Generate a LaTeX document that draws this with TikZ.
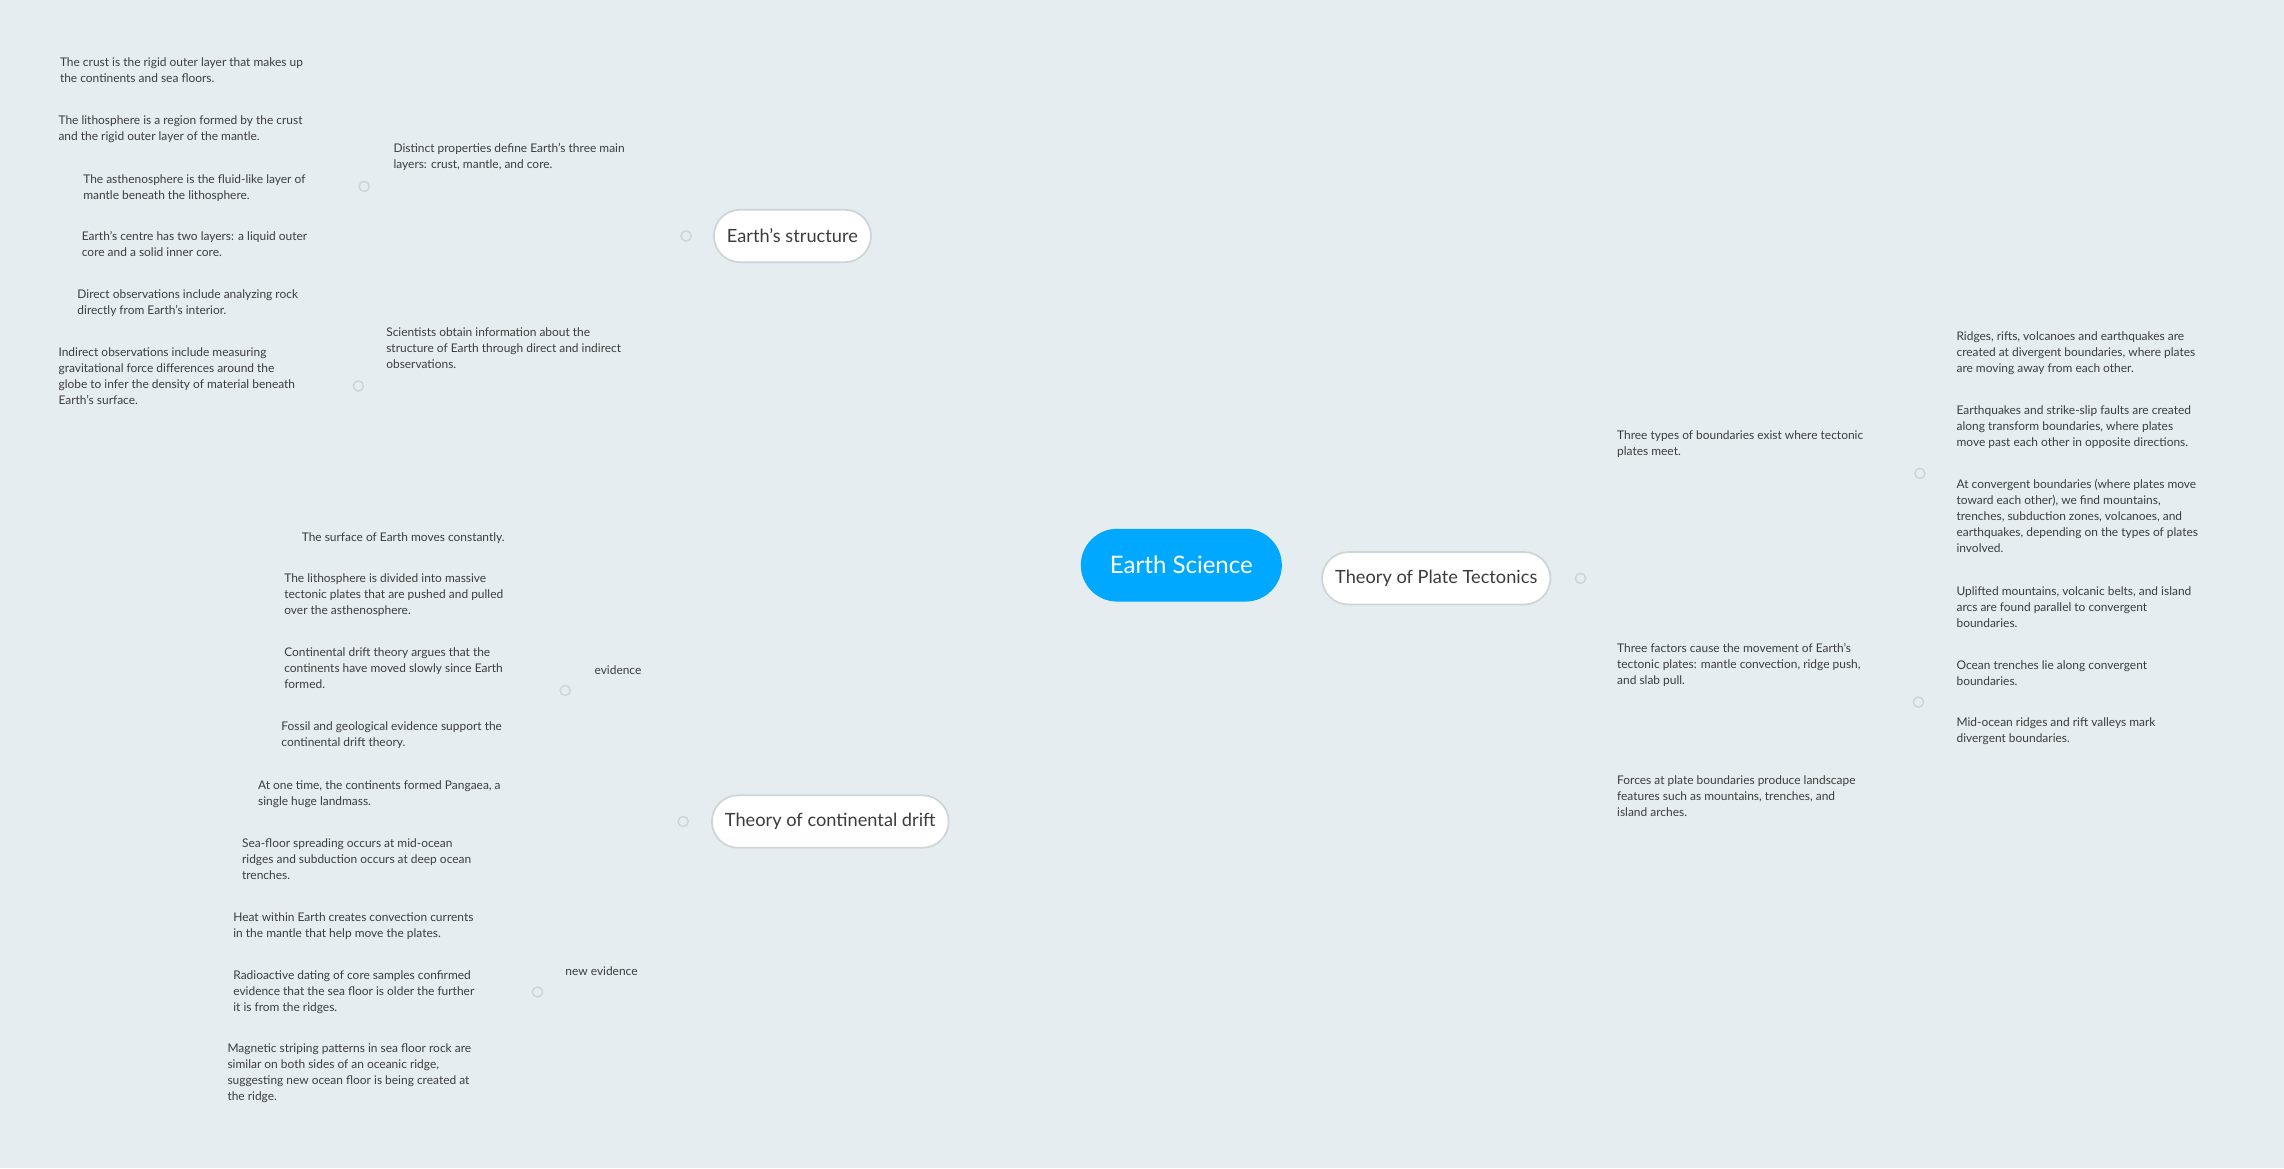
\documentclass[tikz,border=0pt]{standalone}
\usepackage{fontspec}
\setmainfont{Lato}
\pgfdeclarelayer{bg}
\pgfsetlayers{bg,main}
\definecolor{bgc}{RGB}{229,237,241}
\definecolor{lnc}{RGB}{205,213,217}
\definecolor{txc}{RGB}{60,60,60}
\definecolor{rootc}{RGB}{0,168,255}
\tikzset{
 conn/.style={draw=lnc,line width=1.1pt},
 leaftxt/.style={anchor=north west,inner sep=0pt,align=left,text=txc,font=\fontsize{8.2}{11}\selectfont},
 hubc/.style={circle,draw=lnc,fill=bgc,line width=1pt,minimum size=7pt,inner sep=0pt},
 topic/.style={rounded corners=18pt,draw=lnc,line width=1.2pt,fill=white,text=txc,font=\fontsize{12.5}{14}\selectfont,minimum height=36pt,inner xsep=9pt},
 rootn/.style={rounded corners=25pt,fill=rootc,text=white,font=\fontsize{16.5}{18}\selectfont,minimum height=50pt,minimum width=138pt}
}
% left-side leaf: name, text x, first line y, text, ul left, ul right, ul y, hub
\newcommand\lfL[8]{%
 \node[leaftxt] (#1) at (#2,#3-5.5) {#4};
 \coordinate (#1a) at (#5,#7); \coordinate (#1b) at (#6,#7);
 \begin{pgfonlayer}{bg}\draw[conn] (#1a) -- (#1b) .. controls (#8 |- #1b) .. (#8.center);\end{pgfonlayer}}
\newcommand\lfR[8]{%
 \node[leaftxt] (#1) at (#2,#3-5.5) {#4};
 \coordinate (#1a) at (#5,#7); \coordinate (#1b) at (#6,#7);
 \begin{pgfonlayer}{bg}\draw[conn] (#8.center) .. controls (#8 |- #1a) .. (#1a) -- (#1b);\end{pgfonlayer}}
\begin{document}
\begin{tikzpicture}[x=1pt,y=-1pt]
\fill[bgc] (0,0) rectangle (1568,802);
\useasboundingbox (0,0) rectangle (1568,802);
% main nodes
\node[rootn] (root) at (811,388) {Earth Science};
\node[topic] (es) at (544,162) {Earth's structure};
\node[topic] (cd) at (570,564) {Theory of continental drift};
\node[topic] (pt) at (986,397) {Theory of Plate Tectonics};
\node[hubc] (hes) at (471,162) {};
\node[hubc] (hcd) at (469,564) {};
\node[hubc] (hpt) at (1085,397) {};
\node[hubc] (h1) at (250,128) {};
\node[hubc] (h2) at (246,265) {};
\node[hubc] (h3) at (388,474) {};
\node[hubc] (h4) at (369,681) {};
\node[hubc] (h5) at (1318,325) {};
\node[hubc] (h6) at (1317,482) {};
\begin{pgfonlayer}{bg}
\draw[conn] (root.center) .. controls (775,190) and (700,162) .. (es.east);
\draw[conn] (root.center) .. controls (775,560) and (720,564) .. (cd.east);
\draw[conn] (root.center) -- (pt.center);
\draw[conn] (es) -- (hes); \draw[conn] (cd) -- (hcd); \draw[conn] (pt) -- (hpt);
\end{pgfonlayer}
% Earth's structure
\lfL{a1}{270}{104}{Distinct properties define Earth’s three main\\layers: crust, mantle, and core.}{250}{455}{128}{hes}
\lfL{a2}{265}{230}{Scientists obtain information about the\\structure of Earth through direct and indirect\\observations.}{246}{455}{265}{hes}
\lfL{b1}{41}{45}{The crust is the rigid outer layer that makes up\\the continents and sea floors.}{35}{235}{69}{h1}
\lfL{b2}{40}{85}{The lithosphere is a region formed by the crust\\and the rigid outer layer of the mantle.}{35}{235}{108}{h1}
\lfL{b3}{57}{125}{The asthenosphere is the fluid-like layer of\\mantle beneath the lithosphere.}{52}{235}{148}{h1}
\lfL{b4}{56}{164}{Earth’s centre has two layers: a liquid outer\\core and a solid inner core.}{50}{235}{188}{h1}
\lfL{c1}{53}{204}{Direct observations include analyzing rock\\directly from Earth’s interior.}{48}{231}{228}{h2}
\lfL{c2}{40}{244}{Indirect observations include measuring\\gravitational force differences around the\\globe to infer the density of material beneath\\Earth’s surface.}{33}{231}{290}{h2}
% continental drift
\lfL{d1}{408}{462}{evidence}{388}{455}{474}{hcd}
\lfL{d2}{388}{669}{new evidence}{369}{455}{681}{hcd}
\lfL{e1}{207}{371}{The surface of Earth moves constantly.}{202}{373}{383}{h3}
\lfL{e2}{195}{399}{The lithosphere is divided into massive\\tectonic plates that are pushed and pulled\\over the asthenosphere.}{189}{373}{434}{h3}
\lfL{e3}{195}{450}{Continental drift theory argues that the\\continents have moved slowly since Earth\\formed.}{189}{373}{485}{h3}
\lfL{e4}{193}{501}{Fossil and geological evidence support the\\continental drift theory.}{187}{373}{525}{h3}
\lfL{e5}{177}{541}{At one time, the continents formed Pangaea, a\\single huge landmass.}{172}{373}{565}{h3}
\lfL{f1}{166}{581}{Sea-floor spreading occurs at mid-ocean\\ridges and subduction occurs at deep ocean\\trenches.}{160}{353}{616}{h4}
\lfL{f2}{160}{632}{Heat within Earth creates convection currents\\in the mantle that help move the plates.}{154}{353}{656}{h4}
\lfL{f3}{160}{672}{Radioactive dating of core samples confirmed\\evidence that the sea floor is older the further\\it is from the ridges.}{154}{353}{707}{h4}
\lfL{f4}{156}{722}{Magnetic striping patterns in sea floor rock are\\similar on both sides of an oceanic ridge,\\suggesting new ocean floor is being created at\\the ridge.}{150}{353}{769}{h4}
% plate tectonics
\lfR{g1}{1110}{301}{Three types of boundaries exist where tectonic\\plates meet.}{1100}{1318}{325}{hpt}
\lfR{g2}{1110}{447}{Three factors cause the movement of Earth’s\\tectonic plates: mantle convection, ridge push,\\and slab pull.}{1100}{1317}{482}{hpt}
\lfR{g3}{1110}{538}{Forces at plate boundaries produce landscape\\features such as mountains, trenches, and\\island arches.}{1100}{1300}{573}{hpt}
\lfR{k1}{1343}{233}{Ridges, rifts, volcanoes and earthquakes are\\created at divergent boundaries, where plates\\are moving away from each other.}{1333}{1532}{268}{h5}
\lfR{k2}{1343}{284}{Earthquakes and strike-slip faults are created\\along transform boundaries, where plates\\move past each other in opposite directions.}{1333}{1530}{319}{h5}
\lfR{k3}{1343}{334}{At convergent boundaries (where plates move\\toward each other), we find mountains,\\trenches, subduction zones, volcanoes, and\\earthquakes, depending on the types of plates\\involved.}{1333}{1534}{392}{h5}
\lfR{m1}{1343}{408}{Uplifted mountains, volcanic belts, and island\\arcs are found parallel to convergent\\boundaries.}{1333}{1528}{443}{h6}
\lfR{m2}{1343}{459}{Ocean trenches lie along convergent\\boundaries.}{1333}{1495}{483}{h6}
\lfR{m3}{1343}{498}{Mid-ocean ridges and rift valleys mark\\divergent boundaries.}{1333}{1500}{522}{h6}
\end{tikzpicture}
\end{document}
